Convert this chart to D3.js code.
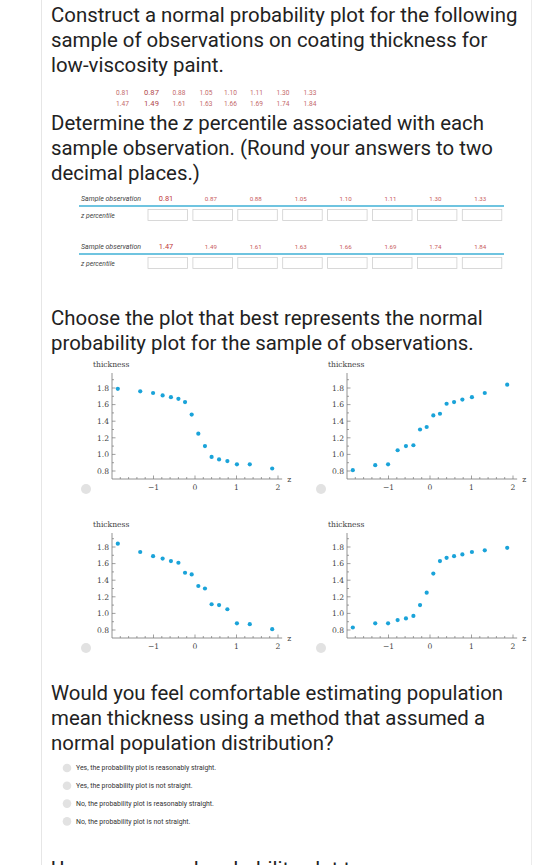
<!DOCTYPE html>
<html><head><meta charset="utf-8">
<script src="https://cdn.jsdelivr.net/npm/d3@7"></script>
<style>
html,body{margin:0;padding:0;background:#fff;}
svg{display:block;}
</style></head>
<body>
<script>
// ---- data ----
const sample = [0.81,0.87,0.88,1.05,1.10,1.11,1.30,1.33,1.47,1.49,1.61,1.63,1.66,1.69,1.74,1.84];
const zPct = [-1.86,-1.32,-1.01,-0.78,-0.58,-0.40,-0.24,-0.08,0.08,0.24,0.40,0.58,0.78,1.01,1.32,1.86];
const sCurve = [0.83,0.88,0.88,0.92,0.94,0.97,1.10,1.25,1.48,1.63,1.67,1.69,1.71,1.74,1.76,1.79];
const yTicks = [0.8,1.0,1.2,1.4,1.6,1.8];
const xTicks = [-1,0,1,2];
const titleLines = ["Construct a normal probability plot for the following","sample of observations on coating thickness for","low-viscosity paint."];
const q1Lines = ["Determine the z percentile associated with each","sample observation. (Round your answers to two","decimal places.)"];
const q2Lines = ["Choose the plot that best represents the normal","probability plot for the sample of observations."];
const q3Lines = ["Would you feel comfortable estimating population","mean thickness using a method that assumed a","normal population distribution?"];
const options = ["Yes, the probability plot is reasonably straight.","Yes, the probability plot is not straight.","No, the probability plot is reasonably straight.","No, the probability plot is not straight."];

const W=540,H=865;
const svg=d3.select("body").append("svg").attr("width",W).attr("height",H);
svg.append("rect").attr("width",W).attr("height",H).attr("fill","#fff");
// card borders
svg.append("line").attr("x1",41.5).attr("x2",41.5).attr("y1",0).attr("y2",H).attr("stroke","#e6e6e6");
svg.append("line").attr("x1",531.5).attr("x2",531.5).attr("y1",0).attr("y2",H).attr("stroke","#ececec");

const sans="Roboto, 'Noto Sans', sans-serif";
const FS=20.4, LH=24.8;
function para(lines,y0){
  lines.forEach((t,i)=>{
    svg.append("text").attr("x",51).attr("y",y0+i*LH).attr("font-family",sans)
      .attr("font-size",FS).attr("fill","#222").text(t);
  });
}
para(titleLines,22);
q1Lines.forEach((t,i)=>{
  const tx=svg.append("text").attr("x",51).attr("y",130+i*LH).attr("font-family",sans).attr("font-size",FS).attr("fill","#222");
  if(i===0){
    tx.append("tspan").text("Determine the ");
    tx.append("tspan").attr("font-style","italic").text("z");
    tx.append("tspan").text(" percentile associated with each");
  } else tx.text(t);
});
para(q2Lines,325);
para(q3Lines,700);

// data listing
const listX=[122.5,151.5,179,206,230.5,256.5,283,310];
[sample.slice(0,8),sample.slice(8)].forEach((row,r)=>{
  svg.selectAll(null).data(row).enter().append("text")
    .attr("x",(d,i)=>listX[i]).attr("y",94.5+r*11)
    .attr("text-anchor","middle").attr("font-family",sans)
    .attr("font-size",(d,i)=>i===1?7.6:6.6)
    .attr("fill",(d,i)=>i===1?"#b0474a":"#c46a6c")
    .text(d=>d.toFixed(2));
});

// tables
const colX=d3.range(8).map(i=>168+i*44.9);
function table(vals,y){
  svg.append("text").attr("x",81).attr("y",y+2.5).attr("font-family",sans).attr("font-size",7)
    .attr("font-style","italic").attr("fill","#444").text("Sample observation");
  svg.selectAll(null).data(vals).enter().append("text")
    .attr("x",(d,i)=>colX[i]-2).attr("y",y+2.5).attr("text-anchor","middle").attr("font-family",sans)
    .attr("font-size",(d,i)=>i===0?7.4:6.2).attr("fill",(d,i)=>i===0?"#c0393b":"#c95d60").text(d=>d.toFixed(2));
  svg.append("line").attr("x1",79).attr("x2",504).attr("y1",y+8).attr("y2",y+8).attr("stroke","#3fb1d6").attr("stroke-width",1.3);
  svg.append("text").attr("x",81).attr("y",y+19.5).attr("font-family",sans).attr("font-size",6.8)
    .attr("font-style","italic").attr("fill","#444").text("z percentile");
  svg.selectAll(null).data(vals).enter().append("rect")
    .attr("x",(d,i)=>colX[i]-20).attr("y",y+11.5).attr("width",39.5).attr("height",11)
    .attr("fill","#fff").attr("stroke","#cfcfcf").attr("stroke-width",0.8);
}
table(sample.slice(0,8),198);
table(sample.slice(8),246);

// plots
const serif="'DejaVu Serif', serif";
function plot(ax,ay,values,top){
  const x=d3.scaleLinear().domain([-2,2]).range([ax,ax+166]);
  const y=d3.scaleLinear().domain([0.8,1.8]).range([ay-8,ay-91]);
  const g=svg.append("g");
  const c="#777";
  g.append("line").attr("x1",ax).attr("x2",ax).attr("y1",ay).attr("y2",top).attr("stroke",c).attr("stroke-width",0.8);
  g.append("line").attr("x1",ax).attr("x2",x(2.1)).attr("y1",ay).attr("y2",ay).attr("stroke",c).attr("stroke-width",0.8);
  d3.range(-19,21).forEach(k=>{
    const v=k/10; const major=Number.isInteger(v);
    if(k%2!==0 && !major) return;
    g.append("line").attr("x1",x(v)).attr("x2",x(v)).attr("y1",ay).attr("y2",ay-(major?3.5:2)).attr("stroke",c).attr("stroke-width",0.7);
  });
  d3.range(8,20).forEach(k=>{
    const v=k/10; const major=k%2===0;
    g.append("line").attr("x1",ax).attr("x2",ax+(major?3.5:2)).attr("y1",y(v)).attr("y2",y(v)).attr("stroke",c).attr("stroke-width",0.7);
  });
  g.selectAll(null).data(yTicks).enter().append("text")
    .attr("x",ax-3).attr("y",d=>y(d)+2.8).attr("text-anchor","end").attr("font-family",serif)
    .attr("font-size",7.6).attr("fill","#444").text(d=>d.toFixed(1));
  g.selectAll(null).data(xTicks).enter().append("text")
    .attr("x",d=>x(d)).attr("y",ay+11).attr("text-anchor","middle").attr("font-family",serif)
    .attr("font-size",7.6).attr("fill","#444").text(d=>d<0?"\u2212"+Math.abs(d):d);
  g.append("text").attr("x",x(2.1)+5).attr("y",ay+3).attr("font-family",serif).attr("font-size",7.6).attr("fill","#444").text("z");
  g.append("text").attr("x",ax-19).attr("y",top-6.5).attr("font-family",serif).attr("font-size",7.6).attr("fill","#444").text("thickness");
  g.selectAll(null).data(values).enter().append("circle")
    .attr("cx",(d,i)=>x(zPct[i])).attr("cy",d=>y(d)).attr("r",2.1).attr("fill","#1aa3d9");
  g.append("circle").attr("cx",ax-26).attr("cy",ay+10).attr("r",5).attr("fill","#e2e2e2");
}
plot(112,479,sCurve.slice().reverse(),373);
plot(347,479,sample,373);
plot(112,638,sample.slice().reverse(),533);
plot(347,638,sCurve,533);

// options
options.forEach((t,i)=>{
  const yy=768+i*17.8;
  svg.append("circle").attr("cx",67).attr("cy",yy).attr("r",4.3).attr("fill","#e2e2e2");
  svg.append("text").attr("x",76).attr("y",yy+2.3).attr("font-family",sans).attr("font-size",6.9).attr("fill","#333").text(t);
});

// cut-off next question (only its top edge is visible in the window)
svg.append("text").attr("x",51).attr("y",876).attr("font-family",sans).attr("font-size",FS).attr("fill","#222")
  .text("Use your normal probability plot to answer.");
</script>
</body></html>
